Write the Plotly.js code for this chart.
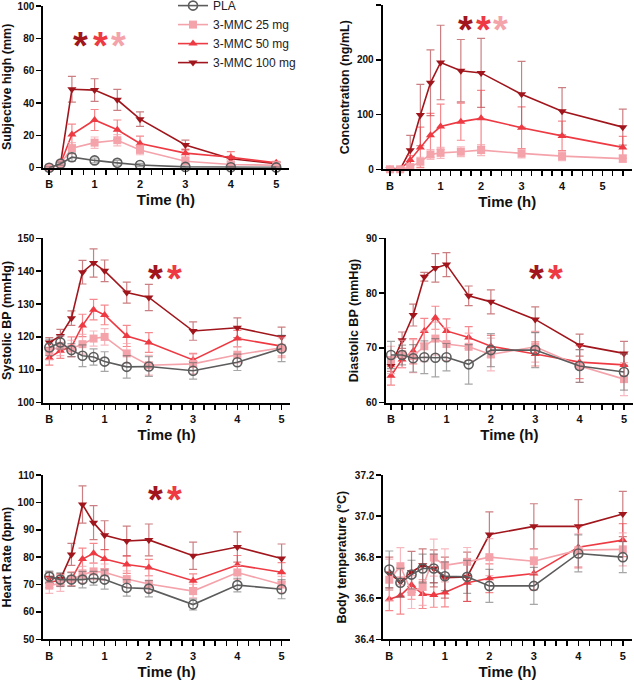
<!DOCTYPE html>
<html>
<head>
<meta charset="utf-8">
<script src="https://cdn.plot.ly/plotly-3.0.1.min.js"></script>
<style>html,body{margin:0;padding:0;background:#fff;}#chart{width:634px;height:685px;}</style>
</head>
<body>
<div id="chart"></div>
<script>
// ---------------- DATA ----------------
const groupNames = ["PLA", "3-MMC 25 mg", "3-MMC 50 mg", "3-MMC 100 mg"];

// Subjective high (mm)
const timeHigh = [0, 0.25, 0.5, 1, 1.5, 2, 3, 4, 5];
const highPLA   = [0, 2.5, 6.5, 4.5, 3, 1.7, 0.5, 0.3, 0.2];
const highPLAe  = [0.5, 1, 2.5, 1.5, 1.5, 1, 0.5, 0.5, 0.3];
const high25    = [0, 2.5, 12, 15.5, 17, 11, 4, 2, 1.5];
const high25e   = [0.5, 1, 3.5, 3.5, 3.5, 3, 1.5, 1, 0.8];
const high50    = [0, 2.5, 20.5, 29.5, 23.5, 15, 9, 6.5, 3];
const high50e   = [0.5, 1.5, 6.5, 6.5, 6, 4.5, 2.5, 3.5, 1];
const high100   = [0, 2.5, 48.5, 48, 42, 30, 14, 5.5, 2.5];
const high100e  = [0.5, 1.5, 8, 7, 6.5, 4.5, 3, 1.5, 1];

// Concentration (ng/mL)
const timeConc = [-0.25, 0, 0.25, 0.5, 0.75, 1, 1.5, 2, 3, 4, 5.5];
const conc25   = [0, 0, 4, 14, 27, 30, 32, 35, 29, 24, 19.5];
const conc25e  = [0, 0, 2, 8, 9, 10, 9, 10, 8, 8, 7];
const conc50   = [0, 0, 17, 40, 62, 78, 87, 93, 76, 61, 40];
const conc50e  = [0, 0, 8, 37, 40, 41, 34, 51, 38, 27, 20];
const conc100  = [0, 0, 35, 99, 158, 195, 180, 176, 137, 106, 77];
const conc100e = [0, 0, 27, 56, 60, 68, 57, 63, 60, 43, 33];

// Vital signs time points
const timeVital = [-0.25, 0, 0.25, 0.5, 0.75, 1, 1.5, 2, 3, 4, 5];

// Systolic BP (mmHg)
const sysPLA  = [116.8, 118.3, 116.0, 114.3, 113.9, 112.5, 110.9, 111.0, 109.7, 112.3, 116.5];
const sysPLAe = [2.5, 2, 2, 3.3, 2.5, 3, 3.4, 3, 2.5, 2.5, 4];
const sys25   = [115.5, 117.3, 116.5, 117.8, 119.5, 120.0, 115.0, 111.4, 111.8, 114.6, 116.7];
const sys25e  = [2.5, 3, 2.5, 3, 2.3, 2.5, 3, 3, 3, 2.5, 3];
const sys50   = [113.7, 115.8, 117.0, 123.5, 128.3, 126.7, 120.3, 118.3, 113.0, 119.5, 117.2];
const sys50e  = [2.3, 2.3, 3, 3.4, 3.1, 3, 3.2, 3, 2, 2.5, 3];
const sys100  = [118.3, 120.3, 125.7, 139.7, 142.5, 140.1, 133.5, 132.0, 121.8, 122.8, 120.0];
const sys100e = [1.5, 2, 2.2, 3.6, 4.3, 3.3, 3.2, 4, 2.8, 3, 3];

// Diastolic BP (mmHg)
const diaPLA  = [68.7, 68.7, 68.1, 68.3, 68.2, 68.3, 67.0, 69.6, 69.6, 66.7, 65.6];
const diaPLAe = [2.5, 1.8, 2.5, 3, 3.5, 2.5, 3.6, 3, 3.2, 3, 3.3];
const dia25   = [67.8, 68.9, 68.5, 70.3, 71.7, 70.7, 70.2, 68.8, 70.2, 66.7, 64.3];
const dia25e  = [2.5, 2.5, 3, 2.8, 3, 3, 2.5, 3, 2.8, 3, 3];
const dia50   = [64.9, 67.9, 69.4, 73.1, 75.5, 73.1, 71.9, 70.3, 68.9, 67.4, 66.9];
const dia50e  = [1.7, 1.5, 2.3, 2.3, 2.1, 2.2, 2, 2, 2.2, 3, 2];
const dia100  = [66.7, 71.4, 76.0, 83.0, 84.6, 85.2, 79.5, 78.4, 75.2, 70.5, 69.0];
const dia100e = [1, 1.5, 2, 0.8, 2.6, 2.2, 1.8, 2.2, 2.3, 2, 2.2];

// Heart rate (bpm)
const hrPLA  = [72.9, 71.8, 71.8, 71.8, 72.3, 71.8, 68.8, 68.5, 62.7, 69.8, 68.3];
const hrPLAe = [2, 2.5, 2.5, 3, 2.5, 3.5, 3, 3, 2, 2.5, 3.5];
const hr25   = [69.6, 70.5, 72.0, 73.6, 74.8, 74.5, 72.0, 70.2, 67.6, 74.4, 70.0];
const hr25e  = [2.8, 3, 2.5, 3, 3, 3, 3, 3, 2.5, 2.5, 3];
const hr50   = [70.9, 71.5, 72.0, 79.3, 81.4, 79.3, 77.3, 76.2, 71.4, 77.1, 74.5];
const hr50e  = [2, 2, 2.5, 4, 3.6, 3.5, 3.2, 3, 2.5, 3.5, 3.5];
const hr100  = [72.5, 72.0, 81.0, 99.2, 92.6, 88.0, 85.9, 86.3, 80.5, 83.7, 79.5];
const hr100e = [2, 2, 4, 6.8, 6.2, 5.3, 5.4, 5.8, 5, 5.5, 5.3];

// Body temperature (°C)
const tmpPLA  = [36.74, 36.675, 36.715, 36.745, 36.745, 36.707, 36.704, 36.66, 36.66, 36.818, 36.80];
const tmpPLAe = [0.09, 0.07, 0.07, 0.07, 0.07, 0.07, 0.08, 0.08, 0.09, 0.09, 0.075];
const tmp25   = [36.69, 36.756, 36.63, 36.655, 36.798, 36.76, 36.777, 36.80, 36.78, 36.834, 36.838];
const tmp25e  = [0.1, 0.09, 0.08, 0.09, 0.09, 0.08, 0.07, 0.09, 0.06, 0.08, 0.08];
const tmp50   = [36.595, 36.613, 36.665, 36.62, 36.616, 36.628, 36.675, 36.697, 36.72, 36.848, 36.883];
const tmp50e  = [0.055, 0.09, 0.07, 0.07, 0.06, 0.07, 0.09, 0.07, 0.08, 0.1, 0.08];
const tmp100  = [36.72, 36.68, 36.728, 36.76, 36.745, 36.70, 36.704, 36.91, 36.95, 36.95, 37.01];
const tmp100e = [0.08, 0.07, 0.1, 0.08, 0.09, 0.1, 0.12, 0.11, 0.11, 0.13, 0.11];

// Axis titles / tick labels
const yTitles = ["Subjective high (mm)", "Concentration (ng/mL)", "Systolic BP (mmHg)",
                 "Diastolic BP (mmHg)", "Heart Rate (bpm)", "Body temperature (°C)"];
const xTitle = "Time (h)";
const xTickLabels = ["B", "1", "2", "3", "4", "5"];

// ---------------- STYLE ----------------
const FONT = "Liberation Sans, Arial, Helvetica, sans-serif";
const colors = ["#5c5c5c", "#f4a3ab", "#ee3a43", "#a0161c"];
const errColors = ["rgba(92,92,92,0.55)", "rgba(244,163,171,0.75)", "rgba(238,58,67,0.6)", "rgba(160,22,28,0.55)"];
const symbols = ["circle-open", "square", "triangle-up", "triangle-down"];
const msize = [9, 8, 8, 8];

const W = 634, H = 685;
// panel pixel boxes: [left, right, top, bottom]
const boxes = [
  [43.3, 288.5, 6, 167.7],
  [382.7, 631.7, 5, 169.3],
  [43.3, 290, 238.3, 402.7],
  [386, 632.7, 238.3, 402.7],
  [43.3, 290, 475, 639.3],
  [383.3, 631.7, 475, 639.3]
];
const xRanges = [[-0.13, 5.27], [-0.43, 5.72], [-0.386, 5.19], [-0.363, 5.196], [-0.386, 5.19], [-0.385, 5.2]];
const yRanges = [[0, 100], [0, 300], [100, 150], [60, 90], [50, 110], [36.4, 37.2]];
const yDtick = [20, 100, 10, 10, 10, 0.2];
const bPos = [0, -0.25, -0.25, -0.25, -0.25, -0.25];
const xTickEnd = [5, 5.5, 5, 5, 5, 5];

const panels = [
  {t: timeHigh, s: [[highPLA, highPLAe], [high25, high25e], [high50, high50e], [high100, high100e]]},
  {t: timeConc, s: [null, [conc25, conc25e], [conc50, conc50e], [conc100, conc100e]]},
  {t: timeVital, s: [[sysPLA, sysPLAe], [sys25, sys25e], [sys50, sys50e], [sys100, sys100e]]},
  {t: timeVital, s: [[diaPLA, diaPLAe], [dia25, dia25e], [dia50, dia50e], [dia100, dia100e]]},
  {t: timeVital, s: [[hrPLA, hrPLAe], [hr25, hr25e], [hr50, hr50e], [hr100, hr100e]]},
  {t: timeVital, s: [[tmpPLA, tmpPLAe], [tmp25, tmp25e], [tmp50, tmp50e], [tmp100, tmp100e]]}
];

const traces = [];
const drawOrder = [3, 2, 1, 0];
panels.forEach((p, pi) => {
  const ax = pi === 0 ? "" : String(pi + 1);
  drawOrder.forEach(g => {
    const d = p.s[g];
    if (!d) return;
    traces.push({
      type: "scatter", mode: "lines+markers",
      x: p.t, y: d[0],
      xaxis: "x" + ax, yaxis: "y" + ax,
      name: groupNames[g],
      legendrank: g + 1,
      showlegend: pi === 0,
      cliponaxis: false,
      line: {color: colors[g], width: 1.6},
      marker: {symbol: symbols[g], size: msize[g], color: colors[g],
               line: {color: colors[g], width: g === 0 ? 1.6 : 0}},
      error_y: {type: "data", array: d[1], visible: true, color: errColors[g], thickness: 1.2, width: 4}
    });
  });
});

const layout = {
  width: W, height: H,
  margin: {l: 0, r: 0, t: 0, b: 0, autoexpand: false},
  paper_bgcolor: "#ffffff", plot_bgcolor: "rgba(0,0,0,0)",
  font: {family: FONT, color: "#111"},
  showlegend: true,
  legend: {x: 173 / W, y: 1.013, xanchor: "left", yanchor: "top",
           font: {family: FONT, size: 12, color: "#222"}, bgcolor: "rgba(0,0,0,0)",
           tracegroupgap: 0, itemwidth: 30},
  annotations: []
};

boxes.forEach((b, i) => {
  const ax = i === 0 ? "" : String(i + 1);
  const tv = [], tt = [];
  for (let v = bPos[i]; v <= xTickEnd[i] + 1e-9; v += 0.25) {
    const r = Math.round(v * 100) / 100;
    tv.push(r);
    if (Math.abs(r - bPos[i]) < 1e-6) tt.push(xTickLabels[0]);
    else if (Number.isInteger(r) && r >= 1) tt.push(xTickLabels[r]);
    else tt.push("");
  }
  layout["xaxis" + ax] = {
    domain: [b[0] / W, b[1] / W], anchor: "y" + ax, range: xRanges[i],
    showline: true, linecolor: "#000", linewidth: 2,
    ticks: "outside", ticklen: 5, tickwidth: 1.5, tickcolor: "#000",
    tickmode: "array", tickvals: tv, ticktext: tt,
    tickfont: {family: FONT, size: 11, weight: "bold", color: "#111"},
    showgrid: false, zeroline: false,
    title: {text: xTitle, font: {family: FONT, size: 15, weight: "bold", color: "#111"}, standoff: 6}
  };
  layout["yaxis" + ax] = {
    domain: [1 - b[3] / H, 1 - b[2] / H], anchor: "x" + ax, range: yRanges[i],
    showline: true, linecolor: "#000", linewidth: 2,
    ticks: "outside", ticklen: 5, tickwidth: 1.5, tickcolor: "#000",
    tick0: yRanges[i][0], dtick: yDtick[i], tickformat: i === 5 ? ".1f" : "",
    tickfont: {family: FONT, size: 10, weight: "bold", color: "#111"},
    showgrid: false, zeroline: false,
    title: {text: yTitles[i], font: {family: FONT, size: 12.5, weight: "bold", color: "#111"}, standoff: 5}
  };
});

// significance asterisks: [panel, x, y, colour index]
const stars = [
  [0, 0.70, 80.4, 3], [0, 1.12, 80.4, 2], [0, 1.53, 80.4, 1],
  [1, 1.61, 269.5, 3], [1, 2.06, 269.5, 2], [1, 2.49, 269.5, 1],
  [2, 2.14, 140, 3], [2, 2.57, 140, 2],
  [3, 3.02, 84, 3], [3, 3.45, 84, 2],
  [4, 2.14, 103.9, 3], [4, 2.57, 103.9, 2]
];
stars.forEach(s => {
  const ax = s[0] === 0 ? "" : String(s[0] + 1);
  layout.annotations.push({
    text: "*", x: s[1], y: s[2], xref: "x" + ax, yref: "y" + ax,
    showarrow: false, xanchor: "center", yanchor: "middle", yshift: -8,
    font: {family: FONT, size: 38, weight: "bold", color: colors[s[3]]}
  });
});

Plotly.newPlot("chart", traces, layout, {staticPlot: true, displayModeBar: false});
</script>
</body>
</html>
